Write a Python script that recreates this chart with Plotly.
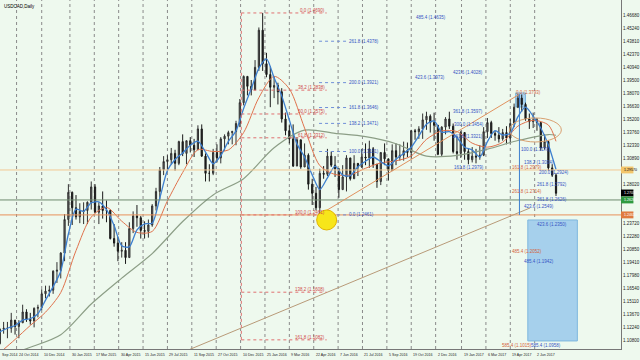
import numpy as np
import pandas as pd
import plotly.graph_objects as go

ORIGIN = "2014-09-09"

def wd(d):
    return int(np.busday_count(ORIGIN, pd.Timestamp(d).strftime("%Y-%m-%d")))

# ---------------- data (weekly candles) ----------------
week_start = pd.date_range("2014-09-22", periods=147, freq="W-MON")
first_open = 1.1040
close = [1.1200, 1.1210, 1.1210, 1.1300, 1.1230, 1.1270, 1.1390, 1.1310, 1.1290, 1.1430,
         1.1440, 1.1590, 1.1620, 1.1630, 1.1840, 1.1850, 1.2040, 1.2410, 1.2710, 1.2540,
         1.2440, 1.2500, 1.2510, 1.2600, 1.2770, 1.2490, 1.2560, 1.2510, 1.2510, 1.2200,
         1.2150, 1.2060, 1.2070, 1.1990, 1.2310, 1.2450, 1.2430, 1.2290, 1.2280, 1.2350,
         1.2560, 1.2720, 1.2960, 1.3050, 1.3070, 1.3140, 1.3030, 1.3270, 1.3140, 1.3280,
         1.3230, 1.3180, 1.3410, 1.3110, 1.2920, 1.2920, 1.3150, 1.3090, 1.3300, 1.3330,
         1.3370, 1.3380, 1.3470, 1.3700, 1.3990, 1.3880, 1.3840, 1.4090, 1.4500, 1.4130,
         1.4010, 1.3870, 1.3890, 1.3820, 1.3520, 1.3390, 1.3300, 1.3000, 1.3290, 1.2990,
         1.3120, 1.2800, 1.2700, 1.2540, 1.2920, 1.2910, 1.3110, 1.3010, 1.2970, 1.2740,
         1.2880, 1.3090, 1.2860, 1.3030, 1.2990, 1.3100, 1.3090, 1.3190, 1.3020, 1.2830,
         1.3150, 1.3080, 1.2950, 1.3170, 1.3100, 1.3120, 1.3170, 1.3150, 1.3390, 1.3380,
         1.3410, 1.3510, 1.3550, 1.3480, 1.3450, 1.3130, 1.3430, 1.3520, 1.3440, 1.3160,
         1.3140, 1.3370, 1.3160, 1.3070, 1.3110, 1.3100, 1.3120, 1.3380, 1.3480, 1.3360,
         1.3340, 1.3300, 1.3370, 1.3310, 1.3470, 1.3650, 1.3750, 1.3680, 1.3520, 1.3490,
         1.3510, 1.3480, 1.3200, 1.3270, 1.2980, 1.2900, 1.2700]
high = [1.1210, 1.1280, 1.1280, 1.1380, 1.1290, 1.1300, 1.1470, 1.1420, 1.1380, 1.1440,
        1.1470, 1.1640, 1.1680, 1.1680, 1.1850, 1.1940, 1.2050, 1.2470, 1.2800, 1.2720,
        1.2680, 1.2590, 1.2600, 1.2610, 1.2830, 1.2800, 1.2600, 1.2720, 1.2620, 1.2520,
        1.2360, 1.2220, 1.2160, 1.2160, 1.2380, 1.2500, 1.2570, 1.2450, 1.2390, 1.2410,
        1.2580, 1.2760, 1.2990, 1.3110, 1.3120, 1.3200, 1.3180, 1.3280, 1.3350, 1.3280,
        1.3320, 1.3300, 1.3450, 1.3460, 1.3140, 1.3020, 1.3190, 1.3240, 1.3320, 1.3350,
        1.3390, 1.3390, 1.3500, 1.3740, 1.4000, 1.3990, 1.3950, 1.4170, 1.4530, 1.4690,
        1.4250, 1.4100, 1.3990, 1.3920, 1.3860, 1.3590, 1.3450, 1.3460, 1.3320, 1.3290,
        1.3250, 1.3140, 1.2860, 1.2770, 1.2970, 1.3000, 1.3190, 1.3160, 1.3110, 1.2970,
        1.3010, 1.3120, 1.3070, 1.3120, 1.3030, 1.3190, 1.3250, 1.3280, 1.3210, 1.3020,
        1.3150, 1.3250, 1.3060, 1.3240, 1.3250, 1.3240, 1.3270, 1.3260, 1.3400, 1.3410,
        1.3440, 1.3580, 1.3600, 1.3570, 1.3590, 1.3330, 1.3440, 1.3540, 1.3600, 1.3470,
        1.3330, 1.3390, 1.3290, 1.3190, 1.3210, 1.3190, 1.3230, 1.3430, 1.3530, 1.3500,
        1.3390, 1.3430, 1.3410, 1.3440, 1.3520, 1.3690, 1.3793, 1.3790, 1.3700, 1.3580,
        1.3590, 1.3530, 1.3460, 1.3350, 1.3280, 1.3020, 1.2920]
low = [1.1030, 1.1150, 1.1100, 1.1160, 1.1140, 1.1100, 1.1270, 1.1280, 1.1250, 1.1220,
       1.1330, 1.1410, 1.1540, 1.1560, 1.1590, 1.1710, 1.1760, 1.1950, 1.2340, 1.2350,
       1.2410, 1.2370, 1.2360, 1.2360, 1.2520, 1.2480, 1.2360, 1.2420, 1.2380, 1.2190,
       1.2110, 1.1950, 1.1990, 1.1920, 1.2030, 1.2260, 1.2330, 1.2200, 1.2200, 1.2210,
       1.2330, 1.2510, 1.2630, 1.2900, 1.2940, 1.3020, 1.2950, 1.3010, 1.3110, 1.3020,
       1.3150, 1.3100, 1.3180, 1.3100, 1.2830, 1.2830, 1.2900, 1.3040, 1.3030, 1.3170,
       1.3240, 1.3240, 1.3230, 1.3430, 1.3670, 1.3780, 1.3780, 1.3840, 1.4050, 1.4050,
       1.3980, 1.3650, 1.3750, 1.3680, 1.3480, 1.3340, 1.3250, 1.2990, 1.3000, 1.2970,
       1.3000, 1.2740, 1.2570, 1.2510, 1.2461, 1.2860, 1.2890, 1.2990, 1.2880, 1.2650,
       1.2740, 1.2720, 1.2840, 1.2860, 1.2890, 1.2980, 1.3010, 1.2980, 1.2980, 1.2760,
       1.2790, 1.3010, 1.2840, 1.2950, 1.3010, 1.3060, 1.3060, 1.3100, 1.3080, 1.3290,
       1.3300, 1.3300, 1.3400, 1.3370, 1.3280, 1.3120, 1.3110, 1.3350, 1.3410, 1.3140,
       1.3070, 1.3090, 1.3070, 1.3020, 1.3040, 1.3030, 1.3070, 1.3110, 1.3310, 1.3310,
       1.3280, 1.3260, 1.3280, 1.3240, 1.3250, 1.3430, 1.3640, 1.3600, 1.3500, 1.3410,
       1.3420, 1.3390, 1.3170, 1.3180, 1.2950, 1.2880, 1.2670]

# moving averages (blue fast, red medium, grey slow)
blue_ma = [1.117, 1.121, 1.124, 1.130, 1.1315, 1.137, 1.152, 1.167, 1.184, 1.225,
           1.2525, 1.250, 1.2595, 1.2605, 1.2518, 1.2343, 1.212, 1.2108, 1.2295, 1.2363,
           1.237, 1.2648, 1.295, 1.3073, 1.3145, 1.323, 1.3275, 1.3155, 1.3025, 1.3115,
           1.3273, 1.3388, 1.3635, 1.3853, 1.4078, 1.4183, 1.3975, 1.3775, 1.3508, 1.3245,
           1.310, 1.2903, 1.274, 1.287, 1.300, 1.290, 1.2893, 1.2993, 1.3053, 1.310,
           1.3048, 1.3003, 1.3075, 1.314, 1.3208, 1.3333, 1.3463, 1.3498, 1.3373, 1.338,
           1.3315, 1.3208, 1.3178, 1.310, 1.327, 1.339, 1.3343, 1.3363, 1.3545, 1.365,
           1.355, 1.342, 1.3233, 1.2963]
red_ma = [1.094, 1.1086, 1.1241, 1.1387, 1.1604, 1.2067, 1.2437, 1.2544, 1.2392, 1.2268,
          1.2279, 1.2616, 1.2929, 1.318, 1.3161, 1.3178, 1.337, 1.3755, 1.399, 1.3852,
          1.3419, 1.3005, 1.2907, 1.2903, 1.2976, 1.3035, 1.3058, 1.3111, 1.3295, 1.3388,
          1.3381, 1.3253, 1.3209, 1.3263, 1.3441, 1.3505, 1.3453, 1.3273]
grey_ma = [1.088, 1.100, 1.1139, 1.1478, 1.1763, 1.2034, 1.2388, 1.2682, 1.2861, 1.3202,
           1.3396, 1.3361, 1.3325, 1.3247, 1.3109, 1.3117, 1.3187, 1.3282, 1.3348, 1.334]

date_labels = ["9 Sep 2014", "24 Oct 2014", "10 Dec 2014", "30 Jan 2015", "17 Mar 2015",
               "30 Apr 2015", "15 Jun 2015", "29 Jul 2015", "11 Sep 2015", "27 Oct 2015",
               "10 Dec 2015", "25 Jan 2016", "9 Mar 2016", "22 Apr 2016", "7 Jun 2016",
               "21 Jul 2016", "5 Sep 2016", "19 Oct 2016", "2 Dec 2016", "19 Jan 2017",
               "6 Mar 2017", "19 Apr 2017", "2 Jun 2017"]
price_ticks = [1.4811, 1.4668, 1.4524, 1.4381, 1.4237, 1.4094, 1.3950, 1.3807, 1.3663,
               1.3520, 1.3376, 1.3233, 1.3089, 1.2946, 1.2802, 1.2659, 1.2515, 1.2372,
               1.2228, 1.2085, 1.1941, 1.1798, 1.1654, 1.1511, 1.1367, 1.1224, 1.1080]

red_fib_levels = ["0.0", "38.2", "50.0", "61.8", "100.0", "138.2", "161.8"]
red_fib_prices = [1.4690, 1.3838, 1.3575, 1.3312, 1.2461, 1.1608, 1.1082]
blue_fib_levels = ["0.0", "100.0", "138.2", "161.8", "200.0", "261.8"]
blue_fib_prices = [1.2461, 1.3161, 1.3471, 1.3646, 1.3921, 1.4378]

# (text, date, price, colour)
BL, OR = "#3554c4", "#d4623a"
cluster_labels = [
    ("485.4 (1.4635)", "2016-10-24", 1.4635, BL),
    ("423.6 (1.3973)", "2016-10-21", 1.3973, BL),
    ("423.6 (1.4028)", "2016-12-30", 1.4028, BL),
    ("361.8 (1.3597)", "2016-12-30", 1.3597, BL),
    ("300.0 (1.3454)", "2017-01-02", 1.3454, BL),
    ("261.8 (1.3321)", "2016-12-30", 1.3321, BL),
    ("161.8 (1.2979)", "2017-01-02", 1.2979, BL),
    ("0.0 (1.3793)", "2017-04-26", 1.3812, OR),
    ("100.0 (1.3178)", "2017-05-05", 1.3178, BL),
    ("138.2 (1.3034)", "2017-05-11", 1.3034, BL),
    ("161.8 (1.2979)", "2017-04-19", 1.2979, OR),
    ("200.0 (1.2924)", "2017-06-07", 1.2924, BL),
    ("261.8 (1.2792)", "2017-06-05", 1.2792, BL),
    ("261.8 (1.2714)", "2017-04-19", 1.2714, OR),
    ("361.8 (1.2626)", "2017-06-05", 1.2626, BL),
    ("423.6 (1.2549)", "2017-05-11", 1.2549, BL),
    ("423.6 (1.2350)", "2017-06-05", 1.2350, BL),
    ("485.4 (1.2052)", "2017-04-19", 1.2052, OR),
    ("485.4 (1.1942)", "2017-05-11", 1.1942, BL),
    ("585.4 (1.1015)", "2017-03-31", 1.1015, OR),
    ("585.4 (1.0958)", "2017-05-24", 1.1015, BL),
]

# ---------------- geometry ----------------
X0, X1 = 11.25, 826.3
Y0, Y1 = 1.0981, 1.4833
BG = "#eef9ee"
FONT = "Liberation Sans"
FS = 4.5
FS_DATE = 3.6

xw = [wd(d) + 2 for d in week_start]
opens = [first_open] + close[:-1]
hi = [max(h, o, c) for h, o, c in zip(high, opens, close)]
lo = [min(l, o, c) for l, o, c in zip(low, opens, close)]

fig = go.Figure()

fig.add_trace(go.Candlestick(
    x=xw, open=opens, high=hi, low=lo, close=close,
    increasing=dict(line=dict(color="#303030", width=1), fillcolor="#6e6e6e"),
    decreasing=dict(line=dict(color="#1a1a1a", width=1), fillcolor="#1a1a1a"),
    whiskerwidth=0, hoverinfo="skip"))

blue_x = xw[0::2]
red_x = [xw[i] for i in list(range(0, 147, 4)) + [146]]
grey_x = [xw[i] for i in list(range(0, 147, 8)) + [146]]
fig.add_trace(go.Scatter(x=grey_x, y=grey_ma, mode="lines",
                         line=dict(color="#8c9e86", width=1.2, shape="spline", smoothing=0.8),
                         hoverinfo="skip"))
fig.add_trace(go.Scatter(x=red_x, y=red_ma, mode="lines",
                         line=dict(color="#e0724c", width=1, shape="spline", smoothing=0.8),
                         hoverinfo="skip"))
fig.add_trace(go.Scatter(x=blue_x, y=blue_ma, mode="lines",
                         line=dict(color="#3d7fcf", width=1.3, shape="spline", smoothing=0.7),
                         hoverinfo="skip"))

shapes = []
annotations = []

# vertical dotted grid at each date label
for lab in date_labels:
    x = wd(pd.to_datetime(lab, format="%d %b %Y"))
    if X0 < x < X1:
        shapes.append(dict(type="line", xref="x", yref="paper", x0=x, x1=x, y0=0, y1=1,
                           line=dict(color="#8a8a8a", width=1, dash="dot"), layer="below"))
        annotations.append(dict(x=x, y=0, xref="x", yref="paper", text=lab, showarrow=False,
                                xanchor="left", yanchor="top", xshift=0, yshift=-1.5,
                                font=dict(size=FS_DATE, color="#222", family=FONT)))
    else:
        # the first label is cut by the left edge: only "Sep 2014" is visible
        annotations.append(dict(x=0, y=0, xref="paper", yref="paper", text=lab.split(" ", 1)[1],
                                showarrow=False, xanchor="left", yanchor="top", yshift=-1.5,
                                font=dict(size=FS_DATE, color="#222", family=FONT)))

# horizontal levels across the chart
h_lines = [(1.2461, "#e8905a"), (1.2626, "#6f8a6f"), (1.2957, "#f2c894")]
for p, col in h_lines:
    shapes.append(dict(type="line", xref="paper", yref="y", x0=0, x1=1, y0=p, y1=p,
                       line=dict(color=col, width=1)))

# blue target box and small peak box
shapes.append(dict(type="rect", xref="x", yref="y", x0=wd("2017-05-22"), x1=wd("2017-08-21"),
                   y0=1.1070, y1=1.2405, fillcolor="#a6d0ec", line=dict(color="#7db6de", width=1),
                   layer="below"))
shapes.append(dict(type="rect", xref="x", yref="y", x0=wd("2017-04-28"), x1=wd("2017-05-17"),
                   y0=1.3652, y1=1.3807, fillcolor="#a6d0ec", line=dict(color="#7db6de", width=1),
                   layer="below"))

# trend lines
trend_lines = [("2015-08-20", 1.0930, "2017-05-25", 1.2538, "#b89a78"),
               ("2016-05-03", 1.2461, "2017-05-05", 1.3793, "#e0915e")]
for d0, p0, d1, p1, col in trend_lines:
    shapes.append(dict(type="line", xref="x", yref="y", x0=wd(d0), y0=p0, x1=wd(d1), y1=p1,
                       line=dict(color=col, width=1)))

# ellipse
shapes.append(dict(type="circle", xref="x", yref="y", x0=wd("2017-04-18"), x1=wd("2017-07-21"),
                   y0=1.3266, y1=1.3531, line=dict(color="#d9a070", width=1)))
# blue vertical from 2017 high
shapes.append(dict(type="line", xref="x", yref="y", x0=wd("2017-05-05"), x1=wd("2017-05-05"),
                   y0=1.2461, y1=1.3793, line=dict(color="#3d7fcf", width=1)))

# red fibonacci retracement
rs, re_ = wd("2015-12-11"), wd("2016-05-17")
shapes.append(dict(type="line", xref="x", yref="y", x0=rs, x1=rs, y0=red_fib_prices[-1],
                   y1=red_fib_prices[0], line=dict(color="#e07070", width=1, dash="dot")))
for lv, p in zip(red_fib_levels, red_fib_prices):
    shapes.append(dict(type="line", xref="x", yref="y", x0=rs, x1=re_, y0=p, y1=p,
                       line=dict(color="#e07070", width=1, dash="dot")))
    annotations.append(dict(x=re_, y=p, xref="x", yref="y", text=f"{lv} ({p:.4f})",
                            showarrow=False, xanchor="right", yanchor="bottom", yshift=-2,
                            font=dict(size=FS, color="#d04848", family=FONT)))

# blue fibonacci expansion
bs, be = wd("2016-05-03"), wd("2016-06-22")
for lv, p in zip(blue_fib_levels, blue_fib_prices):
    shapes.append(dict(type="line", xref="x", yref="y", x0=bs, x1=be, y0=p, y1=p,
                       line=dict(color="#6f8fd8", width=1, dash="dot")))
    annotations.append(dict(x=be, y=p, xref="x", yref="y", text=f"{lv} ({p:.4f})",
                            showarrow=False, xanchor="left", yanchor="middle", xshift=1,
                            font=dict(size=FS, color=BL, family=FONT)))

for txt, d, p, col in cluster_labels:
    annotations.append(dict(x=wd(d), y=p, xref="x", yref="y", text=txt, showarrow=False,
                            xanchor="left", yanchor="middle",
                            font=dict(size=FS, color=col, family=FONT)))

# highlight circle (cursor)
shapes.append(dict(type="circle", xref="x", yref="y", xsizemode="pixel", ysizemode="pixel",
                   xanchor=wd("2016-05-17"), yanchor=1.2405, x0=-10, x1=10, y0=-10, y1=10,
                   fillcolor="#f7e61a", line=dict(color="#e2b400", width=1)))

# right-axis price boxes
axis_boxes = [(1.2957, "#f3c66c", "#000"), (1.2703, "#000000", "#fff"),
              (1.2626, "#2f9a40", "#fff"), (1.2461, "#e07a40", "#fff")]
for p, fc, tc in axis_boxes:
    shapes.append(dict(type="rect", xref="paper", yref="y", x0=1.0, x1=1.02,
                       y0=p - 0.0038, y1=p + 0.0038, fillcolor=fc, line=dict(width=0)))
    annotations.append(dict(x=1.0, y=p, xref="paper", yref="y", text=f"{p:.5f}",
                            showarrow=False, xanchor="left", yanchor="middle", xshift=1,
                            font=dict(size=3.6, color=tc, family=FONT)))

# regular price labels hidden where a price box covers them
box_prices = [b[0] for b in axis_boxes]
shown_ticks = [v for v in price_ticks if min(abs(v - b) for b in box_prices) > 0.006]

annotations.append(dict(x=0, y=1, xref="paper", yref="paper", text="USDCAD,Daily",
                        showarrow=False, xanchor="left", yanchor="top", xshift=2, yshift=-2,
                        font=dict(size=FS, color="#000", family=FONT)))

fig.update_layout(
    width=640, height=360, autosize=False,
    margin=dict(l=0, r=10, t=0, b=11),
    paper_bgcolor=BG, plot_bgcolor=BG,
    showlegend=False, boxgap=0.55,
    shapes=shapes, annotations=annotations,
    xaxis=dict(range=[X0, X1], showgrid=False, zeroline=False, showticklabels=False,
               rangeslider=dict(visible=False), showline=True, linecolor="#777",
               linewidth=1, ticks=""),
    yaxis=dict(range=[Y0, Y1], side="right", showgrid=False, zeroline=False,
               tickvals=shown_ticks, ticktext=[f"{v:.5f}" for v in shown_ticks],
               tickfont=dict(size=FS, color="#222", family=FONT), ticks="",
               showline=True, linecolor="#777", linewidth=1),
)

fig.write_html("out.html")
